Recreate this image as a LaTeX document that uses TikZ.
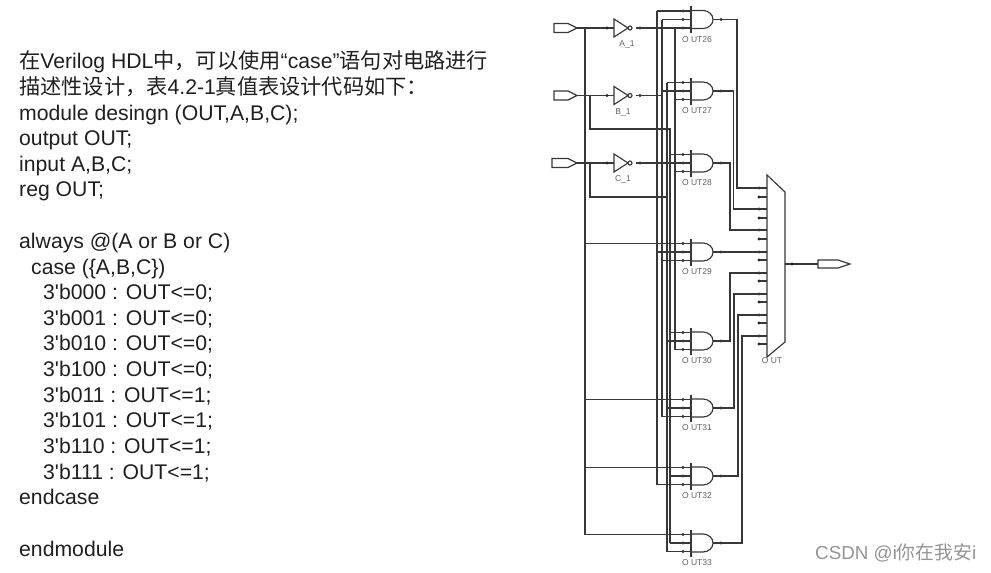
\documentclass[tikz,border=0pt]{standalone}
\usepackage{fontspec}
\setmainfont{Liberation Sans}
\newfontfamily\cjk{Noto Sans CJK SC}
\newcommand{\qq}{\textquotesingle}
\tikzset{
  wire/.style={draw=black!78,line width=1.15pt},
  pindot/.style={fill=black!85},
  codeline/.style={anchor=base west,inner sep=0pt,text=black!88,font=\fontsize{21.2}{24}\selectfont},
  gatelabel/.style={inner sep=0pt,text=black!62,font=\fontsize{8.5}{9}\selectfont}
}
\begin{document}
\begin{tikzpicture}[x=1pt,y=-1pt]
\useasboundingbox (0,0) rectangle (991,573);
% text on the left
\node[codeline] (line1) at (19,68) {{\cjk 在}Verilog HDL{\cjk 中^^^^ff0c可以使用}“case”{\cjk 语句对电路进行}};
\node[codeline] (line2) at (19,94) {{\cjk 描述性设计^^^^ff0c表}4.2-1{\cjk 真值表设计代码如下^^^^ff1a}};
\foreach \x/\y/\txt [count=\i from 3] in {
  19/120/{module desingn (OUT,A,B,C);},
  19/145/{output OUT;},
  19/171/{input A,B,C;},
  19/196/{reg OUT;},
  19/248/{always @(A or B or C)},
  31/274/{case (\{A,B,C\})},
  43/299/{3\qq b000 : OUT<=0;},
  43/325/{3\qq b001 : OUT<=0;},
  43/350/{3\qq b010 : OUT<=0;},
  43/376/{3\qq b100 : OUT<=0;},
  43/402/{3\qq b011 : OUT<=1;},
  43/427/{3\qq b101 : OUT<=1;},
  43/453/{3\qq b110 : OUT<=1;},
  43/479/{3\qq b111 : OUT<=1;},
  19/504/{endcase},
  19/556/{endmodule}}
   \node[codeline] (line\i) at (\x,\y) {\txt};
\node[anchor=west,inner sep=0pt,text=black!42,font=\fontsize{18.8}{22}\selectfont] (csdn) at (815,553) {CSDN @i{\cjk 你在我安}i};
% input pads and inverters
\foreach \n/\y/\px/\lx in {A/28/554/627,B/95.5/554/623,C/163/552/623} {
   \draw[wire] (\px,\y-4.5) -- (568,\y-4.5) -- (577,\y) -- (568,\y+4.5) -- (\px,\y+4.5) -- cycle;
   \coordinate (pad\n) at (577,\y);
   \coordinate (inv\n) at (614,\y);
   \coordinate (not\n) at (636,\y);
   \draw[wire] (614,\y-9) -- (628,\y) -- (614,\y+9) -- cycle;
   \draw[wire] (630,\y) circle (2pt);
   \draw[wire] (pad\n) -- (inv\n);
   \fill[pindot] (607,\y) circle (1.7pt) (640,\y) circle (1.7pt);
   \node[gatelabel] (lab\n) at (\lx,\y+16.5) {\n\_1};
}
% and gates
\foreach \n/\y in {26/19.5,27/91,28/163,29/252,30/341,31/408,32/476,33/543} {
   \coordinate (g\n a) at (691,\y-8.5);
   \coordinate (g\n b) at (691,\y);
   \coordinate (g\n c) at (691,\y+8.5);
   \coordinate (g\n) at (713,\y);
   \draw[wire] (691,\y-13.5) -- (691,\y+13.5);
   \draw[wire] (691,\y-9) -- (703,\y-9) arc[start angle=90,end angle=-90,x radius=10pt,y radius=9pt] -- (691,\y+9);
   \fill[pindot] (683,\y-8.5) circle (1.7pt) (683,\y) circle (1.7pt) (683,\y+8.5) circle (1.7pt) (721,\y) circle (1.7pt);
   \node[gatelabel] (lab\n) at (697,\y+20) {O UT\n};
}
% long vertical wires
\coordinate (busCn) at (657,11);
\coordinate (busBn) at (662,19.5);
\coordinate (busC) at (667,82.5);
\coordinate (busB) at (670,129);
\coordinate (busAn) at (675,28);
\coordinate (trunk) at (585,28);
\coordinate (forkB) at (590,95.5);
\coordinate (forkC) at (590,163);
\coordinate (bendC) at (590,197);
\draw[wire] (trunk) |- (g33a);
\draw[wire] (forkB) |- (busB) -- (busB |- g33b);
\draw[wire] (forkC) -- (bendC) -- (bendC -| busC);
\draw[wire] (busC) -- (busC |- g33c);
\draw[wire] (busCn) -- (busCn |- g32c);
\draw[wire] (busBn) -- (busBn |- g31c);
\draw[wire] (busAn) -- (busAn |- g30c);
\draw[wire] (notA) -- (busAn);
\draw[wire] (notB) -- (notB -| busBn);
\draw[wire] (notC) -- (g28b);
% gate inputs
\foreach \pin/\bus in {g26a/busCn,g26b/busBn,g26c/busAn,
                       g27a/busC,g27b/busBn,g27c/busAn,
                       g28a/busB,g28c/busAn,
                       g29a/trunk,g29b/busCn,g29c/busBn,
                       g30a/busB,g30b/busC,g30c/busAn,
                       g31a/trunk,g31b/busC,g31c/busBn,
                       g32a/trunk,g32b/busB,g32c/busCn,
                       g33b/busB,g33c/busC}
   \draw[wire] (\pin) -- (\pin -| \bus);
% multiplexer
\draw[wire] (767,175) coordinate (muxT) -- (785,192) -- (785,342) -- (767,357) coordinate (muxB) -- cycle;
\foreach \y [count=\i] in {188,197,209,218,230,239,252,260,273,281,294,302,315,323,336,344} {
   \coordinate (m\i) at (767,\y);
   \draw[wire] (759,\y) -- (m\i);
   \fill[pindot] (759,\y) circle (1.7pt);
}
\node[gatelabel] (labOut) at (772,361) {O UT};
% gate outputs to the multiplexer
\foreach \n/\x/\m in {26/737/1,27/733.5/3,28/730/5,30/730/9,31/734/11,32/738/13,33/742/15}
   \draw[wire] (g\n) -- (\x,0 |- g\n) |- (m\m);
\draw[wire] (g29) -- (m7);
% output pad
\coordinate (outS) at (785,264);
\coordinate (padOut) at (818,264);
\draw[wire] (outS) -- (padOut);
\fill[pindot] (792,264) circle (1.7pt);
\draw[wire] (padOut) -- (818,260) -- (838,260) -- (850,264) -- (838,268) -- (818,268) -- cycle;
\end{tikzpicture}
\end{document}
